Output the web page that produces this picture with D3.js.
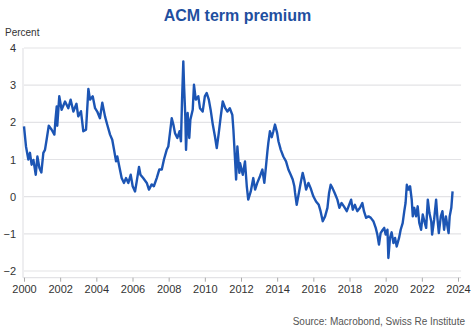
<!DOCTYPE html>
<html>
<head>
<meta charset="utf-8">
<script src="https://cdn.jsdelivr.net/npm/d3@7"></script>
<style>
  html, body { margin: 0; padding: 0; background: #fff; }
  svg { display: block; font-family: "Liberation Sans", Arial, sans-serif; }
</style>
</head>
<body>
<svg id="chart" width="474" height="333"></svg>
<script>
// ---- data ----
const years = [
  2000.0, 2000.11, 2000.24, 2000.33, 2000.42, 2000.52, 2000.65, 2000.74, 2000.85, 2000.96,
  2001.07, 2001.16, 2001.25, 2001.37, 2001.53, 2001.68, 2001.74, 2001.81, 2001.84, 2001.95,
  2002.08, 2002.27, 2002.45, 2002.58, 2002.73, 2002.9, 2003.0, 2003.15, 2003.28, 2003.43,
  2003.56, 2003.65, 2003.8, 2003.93, 2004.05, 2004.2, 2004.33, 2004.48, 2004.6, 2004.76,
  2004.88, 2004.98, 2005.09, 2005.16, 2005.27, 2005.4, 2005.53, 2005.64, 2005.77, 2005.9,
  2006.01, 2006.14, 2006.22, 2006.36, 2006.44, 2006.59, 2006.79, 2006.91, 2007.06, 2007.18,
  2007.34, 2007.48, 2007.62, 2007.74, 2007.89, 2007.98, 2008.07, 2008.17, 2008.26, 2008.35,
  2008.48, 2008.6, 2008.68, 2008.74, 2008.81, 2008.85, 2008.92, 2008.96, 2009.05, 2009.14,
  2009.2, 2009.33, 2009.4, 2009.5, 2009.64, 2009.73, 2009.88, 2010.0, 2010.1, 2010.22,
  2010.32, 2010.44, 2010.56, 2010.66, 2010.77, 2010.88, 2010.99, 2011.13, 2011.25, 2011.38,
  2011.52, 2011.58, 2011.67, 2011.73, 2011.8, 2011.91, 2011.95, 2012.1, 2012.22, 2012.32,
  2012.4, 2012.54, 2012.68, 2012.78, 2012.9, 2013.05, 2013.18, 2013.29, 2013.38, 2013.46,
  2013.51, 2013.6, 2013.7, 2013.79, 2013.88, 2014.0, 2014.07, 2014.2, 2014.34, 2014.49,
  2014.62, 2014.75, 2014.86, 2014.95, 2014.99, 2015.08, 2015.2, 2015.3, 2015.41, 2015.5,
  2015.6, 2015.73, 2015.85, 2016.0, 2016.15, 2016.3, 2016.4, 2016.52, 2016.65, 2016.78,
  2016.87, 2016.96, 2017.06, 2017.18, 2017.33, 2017.44, 2017.56, 2017.69, 2017.85, 2017.98,
  2018.09, 2018.18, 2018.3, 2018.43, 2018.58, 2018.71, 2018.8, 2018.92, 2019.05, 2019.18,
  2019.32, 2019.45, 2019.54, 2019.63, 2019.72, 2019.84, 2019.92, 2020.0, 2020.1, 2020.15,
  2020.24, 2020.33, 2020.43, 2020.52, 2020.61, 2020.74, 2020.83, 2020.94, 2021.03, 2021.1,
  2021.17, 2021.26, 2021.35, 2021.44, 2021.5, 2021.58, 2021.68, 2021.77, 2021.86, 2021.96,
  2022.05, 2022.14, 2022.24, 2022.33, 2022.42, 2022.52, 2022.57, 2022.68, 2022.79, 2022.86,
  2022.94, 2023.05, 2023.14, 2023.23, 2023.33, 2023.4, 2023.48, 2023.54, 2023.63, 2023.7
];
const premium = [
  1.89, 1.35, 1.00, 1.18, 0.86, 0.99, 0.59, 1.08, 0.78, 0.65,
  1.18, 1.26, 1.53, 1.91, 1.80, 1.67, 2.07, 2.43, 1.91, 2.70,
  2.34, 2.56, 2.38, 2.61, 2.29, 2.50, 2.16, 2.30, 1.76, 1.80,
  2.90, 2.61, 2.70, 2.38, 2.29, 2.11, 2.53, 2.16, 1.94, 1.67,
  1.53, 1.26, 0.95, 1.08, 0.81, 0.50, 0.37, 0.50, 0.37, 0.59,
  0.28, 0.14, 0.37, 0.80, 0.59, 0.50, 0.37, 0.19, 0.33, 0.28,
  0.50, 0.73, 0.73, 1.00, 1.26, 1.35, 1.71, 2.11, 1.94, 1.71,
  1.58, 1.76, 1.49, 2.61, 3.64, 3.00, 2.16, 1.26, 2.25, 1.58,
  2.07, 2.34, 3.01, 2.61, 2.70, 2.38, 2.29, 2.70, 2.79, 2.61,
  2.34, 1.94, 1.62, 1.31, 1.71, 2.16, 2.56, 2.38, 2.29, 2.38,
  2.20, 1.80, 1.00, 0.46, 1.35, 0.64, 0.90, 0.59, 0.95, 0.28,
  -0.08, 0.14, 0.50, 0.19, 0.37, 0.55, 0.73, 0.37, 0.81, 1.22,
  1.44, 1.76, 1.60, 1.76, 1.94, 1.71, 1.49, 1.26, 1.08, 0.95,
  0.73, 0.59, 0.46, 0.28, 0.10, -0.22, 0.10, 0.37, 0.64, 0.46,
  0.19, 0.37, 0.23, 0.01, -0.13, -0.22, -0.39, -0.66, -0.53, -0.30,
  0.10, 0.32, 0.23, 0.10, -0.08, -0.30, -0.17, -0.26, -0.39, -0.22,
  -0.08, -0.35, -0.22, -0.39, -0.30, -0.17, -0.39, -0.57, -0.53, -0.57,
  -0.66, -0.84, -1.02, -1.29, -0.98, -0.89, -0.84, -1.02, -0.89, -1.65,
  -1.11, -0.96, -1.25, -1.11, -1.34, -1.11, -0.89, -0.71, -0.39, -0.17,
  0.32, 0.19, 0.28, -0.08, -0.53, -0.30, -0.53, -0.26, -0.71, -0.89,
  -0.48, -0.66, -0.84, -0.08, -0.44, -0.66, -1.02, -0.62, -0.08, -0.57,
  -0.98, -0.53, -0.39, -0.89, -0.53, -0.75, -0.98, -0.53, -0.30, 0.14
];
const yTicks = [-2, -1, 0, 1, 2, 3, 4];
const xTicks = [2000, 2002, 2004, 2006, 2008, 2010, 2012, 2014, 2016, 2018, 2020, 2022, 2024];
const titleText = "ACM term premium";
const unitText = "Percent";
const sourceText = "Source: Macrobond, Swiss Re Institute";

// ---- layout ----
const svg = d3.select("#chart");
const x = d3.scaleLinear().domain([2000, 2024]).range([24, 458]);
const y = d3.scaleLinear().domain([-2, 4]).range([271, 48]);
const yBottom = y(-2.18);
const xRight = x(2024.17);
const gridColor = "#e3e3e6";
const lineColor = "#1c55b4";

// title
svg.append("text")
  .attr("x", 237.5).attr("y", 21)
  .attr("text-anchor", "middle")
  .attr("font-size", 16).attr("font-weight", "bold")
  .attr("fill", "#1f4f9f")
  .text(titleText);

svg.append("text")
  .attr("x", 5).attr("y", 36)
  .attr("font-size", 10).attr("fill", "#333")
  .text(unitText);

// gridlines
svg.append("g").selectAll("line").data(yTicks).join("line")
  .attr("x1", x(2000)).attr("x2", xRight)
  .attr("y1", d => y(d)).attr("y2", d => y(d))
  .attr("stroke", gridColor).attr("stroke-width", 1.2);

// y axis (labels only via d3 axis)
const yAxis = svg.append("g")
  .attr("transform", `translate(${x(2000) - 1},0)`)
  .call(d3.axisLeft(y).tickValues(yTicks).tickSize(0).tickPadding(7).tickFormat(d3.format("d")));
yAxis.select(".domain").remove();
yAxis.append("line")
  .attr("x1", 0).attr("x2", 0).attr("y1", y(4)).attr("y2", yBottom)
  .attr("stroke", gridColor).attr("stroke-width", 1.2);
yAxis.selectAll("text").attr("font-size", 11).attr("fill", "#333")
  .attr("font-family", "'Liberation Sans', Arial, sans-serif");

// x axis
const xAxis = svg.append("g")
  .attr("transform", `translate(0,${yBottom})`)
  .call(d3.axisBottom(x).tickValues(xTicks).tickSize(4).tickPadding(4).tickFormat(d3.format("d")));
xAxis.select(".domain").attr("d", `M${x(2000) - 1},0H${xRight}`).attr("stroke", gridColor).attr("stroke-width", 1.2);
xAxis.selectAll(".tick line").attr("stroke", "#aaa");
xAxis.selectAll("text").attr("font-size", 11).attr("fill", "#333")
  .attr("font-family", "'Liberation Sans', Arial, sans-serif");

// line
const series = years.map((t, i) => ({ t, v: premium[i] }));
svg.append("path")
  .datum(series)
  .attr("fill", "none")
  .attr("stroke", lineColor)
  .attr("stroke-width", 2.4)
  .attr("stroke-linejoin", "round")
  .attr("d", d3.line().x(d => x(d.t)).y(d => y(d.v)));

// source
svg.append("text")
  .attr("x", 465).attr("y", 325)
  .attr("text-anchor", "end")
  .attr("font-size", 10).attr("fill", "#555")
  .text(sourceText);
</script>
</body>
</html>
